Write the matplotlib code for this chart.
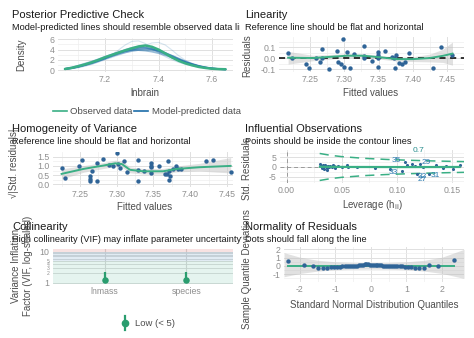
import numpy as np
import matplotlib
matplotlib.use("Agg")
import matplotlib.pyplot as plt
from matplotlib.lines import Line2D
from matplotlib.transforms import Bbox

plt.rcParams['font.family'] = ['Liberation Sans', 'DejaVu Sans']

# ---------------- data ----------------
# Posterior predictive check (density curves read on a common grid)
ppc_x = [7.050, 7.075, 7.100, 7.125, 7.150, 7.175, 7.200, 7.225, 7.250, 7.275, 7.300, 7.325, 7.350,
         7.375, 7.400, 7.425, 7.450, 7.475, 7.500, 7.525, 7.550, 7.575, 7.600, 7.625, 7.650]
ppc_observed = [0.20, 0.42, 0.75, 1.10, 1.50, 1.98, 2.50, 2.95, 3.40, 3.85, 4.25, 4.62, 4.80,
                4.55, 4.00, 3.25, 2.45, 1.80, 1.30, 0.92, 0.60, 0.40, 0.25, 0.18, 0.15]
ppc_pred_a = [0.20, 0.40, 0.70, 1.05, 1.45, 1.90, 2.40, 2.85, 3.30, 3.70, 4.00, 4.18, 4.20,
              4.05, 3.75, 3.25, 2.70, 2.10, 1.55, 1.10, 0.72, 0.45, 0.28, 0.18, 0.12]
ppc_pred_b = [0.18, 0.35, 0.60, 0.95, 1.30, 1.75, 2.20, 2.70, 3.20, 3.65, 4.05, 4.30, 4.40,
              4.25, 3.90, 3.35, 2.75, 2.15, 1.60, 1.15, 0.78, 0.50, 0.30, 0.18, 0.10]
ppc_pred_c = [0.25, 0.50, 0.85, 1.25, 1.65, 2.10, 2.60, 3.05, 3.45, 3.75, 3.90, 3.90, 3.80,
              3.60, 3.30, 2.90, 2.45, 1.95, 1.50, 1.10, 0.75, 0.50, 0.32, 0.20, 0.15]
ppc_pred_d = [0.20, 0.38, 0.65, 1.00, 1.40, 1.85, 2.35, 2.90, 3.45, 3.95, 4.35, 4.50, 4.40,
              4.10, 3.65, 3.10, 2.50, 1.95, 1.45, 1.05, 0.70, 0.45, 0.28, 0.17, 0.12]
ppc_pred_e = [0.20, 0.40, 0.68, 1.00, 1.38, 1.80, 2.25, 2.70, 3.10, 3.45, 3.72, 3.92, 4.00,
              3.95, 3.70, 3.30, 2.80, 2.25, 1.70, 1.22, 0.82, 0.52, 0.32, 0.20, 0.14]
ppc_pred_f = [0.12, 0.25, 0.45, 0.75, 1.10, 1.60, 2.20, 3.00, 3.90, 4.90, 5.60, 5.70, 5.20,
              4.30, 3.40, 2.60, 2.00, 1.50, 1.10, 0.80, 0.55, 0.35, 0.22, 0.14, 0.10]
ppc_pred_g = [0.15, 0.30, 0.50, 0.80, 1.15, 1.55, 2.00, 2.45, 2.90, 3.35, 3.80, 4.30, 4.85,
              5.30, 5.40, 4.90, 3.90, 2.80, 1.90, 1.25, 0.80, 0.50, 0.30, 0.18, 0.12]
ppc_predicted = [ppc_pred_a, ppc_pred_b, ppc_pred_c, ppc_pred_d, ppc_pred_e, ppc_pred_f, ppc_pred_g]

# Linearity: fitted values and residuals
fitted = [7.218, 7.223, 7.244, 7.248, 7.259, 7.264, 7.268, 7.268, 7.278, 7.289,
          7.291, 7.298, 7.295, 7.300, 7.304, 7.308, 7.314, 7.329, 7.329, 7.329,
          7.340, 7.349, 7.349, 7.349, 7.349, 7.360, 7.369, 7.372, 7.375, 7.374,
          7.380, 7.385, 7.389, 7.395, 7.430, 7.441, 7.458]
residuals = [0.043, 0.003, -0.055, -0.094, 0.003, -0.033, 0.082, 0.003, -0.100, 0.067,
             -0.033, 0.173, -0.057, -0.079, 0.052, -0.094, 0.033, 0.112, 0.021, 0.003,
             -0.027, 0.057, 0.030, 0.003, -0.079, 0.067, 0.012, -0.003, 0.027, -0.094,
             -0.048, -0.057, -0.033, 0.043, -0.094, 0.103, 0.027]
lin_smooth_x = [7.218, 7.254, 7.304, 7.327, 7.352, 7.377, 7.400, 7.425, 7.444, 7.458]
lin_smooth_y = [0.003, 0.000, 0.021, 0.021, 0.007, -0.010, -0.010, 0.000, 0.020, 0.040]
lin_band_lo = [-0.055, -0.025, 0.003, 0.004, -0.010, -0.028, -0.032, -0.035, -0.040, -0.065]
lin_band_hi = [0.060, 0.025, 0.039, 0.038, 0.024, 0.008, 0.012, 0.035, 0.080, 0.145]

# Homogeneity of variance
homog_fitted = [7.225, 7.230, 7.249, 7.253, 7.263, 7.263, 7.263, 7.273, 7.273, 7.267,
                7.281, 7.290, 7.295, 7.300, 7.302, 7.305, 7.310, 7.314, 7.329, 7.329,
                7.329, 7.337, 7.347, 7.347, 7.347, 7.347, 7.357, 7.366, 7.368, 7.370,
                7.371, 7.372, 7.371, 7.377, 7.381, 7.383, 7.388, 7.422, 7.431, 7.455]
homog_sqrt_abs = [0.89, 0.36, 0.98, 1.32, 0.48, 0.30, 0.16, 1.16, 0.18, 0.75,
                  1.37, 1.07, 1.02, 1.68, 1.11, 0.89, 1.29, 0.66, 1.34, 0.79,
                  0.21, 0.71, 1.14, 0.98, 0.93, 0.61, 1.02, 0.57, 0.54, 1.25,
                  0.75, 0.48, 0.25, 0.84, 1.02, 0.84, 0.84, 1.29, 1.32, 0.66]
homog_smooth_x = [7.225, 7.255, 7.282, 7.298, 7.307, 7.318, 7.336, 7.363, 7.382, 7.413, 7.455]
homog_smooth_y = [0.57, 0.84, 1.02, 1.14, 1.10, 0.79, 0.71, 0.71, 0.84, 0.93, 1.00]
homog_band_lo = [0.30, 0.66, 0.86, 0.97, 0.93, 0.63, 0.56, 0.56, 0.68, 0.72, 0.62]
homog_band_hi = [0.84, 1.02, 1.18, 1.31, 1.27, 0.95, 0.86, 0.86, 1.00, 1.14, 1.45]

# Influential observations
leverage = [0.0303, 0.0309, 0.0318, 0.0327, 0.0333, 0.0342, 0.0348, 0.0357, 0.0363, 0.0369,
            0.0378, 0.0388, 0.0394, 0.0409, 0.0418, 0.0430, 0.0439, 0.0469, 0.0500, 0.0545,
            0.0560, 0.0636, 0.0803, 0.0940, 0.1045, 0.1075, 0.1090, 0.1136, 0.1166, 0.1180,
            0.1210, 0.1240, 0.1288, 0.1360, 0.1420, 0.1450, 0.1510, 0.1570]
std_resid = [1.42, 0.37, -0.35, 1.07, 0.0, -0.88, 0.9, 0.37, -0.35, -1.4,
             0.72, 0.0, 0.54, 0.0, 0.9, 0.37, -0.35, 0.54, 0.0, 0.9,
             0.0, 0.0, -0.35, -1.2, -2.1, 2.65, 0.9, 1.42, 0.37, -3.85,
             1.6, 0.0, -3.5, 0.9, -0.35, 0.37, -0.88, 0.9]
infl_smooth_x = [0.0303, 0.06, 0.11, 0.157]
infl_smooth_y = [0.1, 0.0, -0.05, 0.0]
cook_lev = [0.030, 0.040, 0.050, 0.070, 0.090, 0.110, 0.130, 0.150, 0.170]
cook_upper = [7.08, 6.10, 5.43, 4.54, 3.97, 3.54, 3.21, 2.94, 2.72]
cook_lower = [-7.08, -6.10, -5.43, -4.54, -3.97, -3.54, -3.21, -2.94, -2.72]
infl_labels = ['35', '29', '33', '32', '31', '27']
infl_label_lev = [0.0994, 0.127, 0.097, 0.1227, 0.135, 0.1227]
infl_label_res = [3.5, 2.1, -3.15, -4.9, -4.4, -6.6]

# Collinearity
vif_terms = ['lnmass', 'species']
vif_values = [1.22, 1.22]
vif_ci_low = [1.0, 1.0]
vif_ci_high = [2.2, 2.2]

# Normality of residuals (detrended QQ)
qq_theoretical = [-2.33, -1.88, -1.64, -1.48, -1.34, -1.23, -1.13, -1.04, -0.95, -0.88,
                  -0.81, -0.74, -0.67, -0.61, -0.55, -0.50, -0.44, -0.39, -0.33, -0.28,
                  -0.23, -0.18, -0.13, -0.08, -0.03, 0.03, 0.08, 0.13, 0.18, 0.23,
                  0.28, 0.33, 0.39, 0.44, 0.50, 0.55, 0.61, 0.67, 0.74, 0.81,
                  0.88, 0.95, 1.04, 1.13, 1.23, 1.34, 1.48, 1.64, 1.88, 2.33]
qq_deviation = [0.55, 0.15, 0.02, -0.25, -0.22, -0.25, -0.18, -0.15, -0.12, -0.08,
                -0.05, -0.04, -0.02, 0.0, 0.0, 0.02, 0.04, 0.05, 0.08, 0.12,
                0.15, 0.18, 0.20, 0.18, 0.17, 0.15, 0.13, 0.12, 0.10, 0.08,
                0.07, 0.05, 0.04, 0.03, 0.02, 0.0, 0.0, -0.02, -0.03, -0.05,
                -0.06, -0.08, -0.10, -0.15, -0.22, -0.28, -0.20, 0.12, -0.05, 0.75]
qq_band_x = [-2.45, -2.0, -1.5, -1.0, -0.5, 0.0, 0.5, 1.0, 1.5, 2.0, 2.62]
qq_band_hi = [1.6, 1.05, 0.68, 0.5, 0.42, 0.40, 0.42, 0.5, 0.68, 1.05, 2.0]
qq_band_lo = [-1.3, -0.9, -0.62, -0.47, -0.4, -0.37, -0.4, -0.47, -0.62, -0.9, -1.5]

# ---------------- styling ----------------
W, H = 474, 338
fig = plt.figure(figsize=(W / 100, H / 100), dpi=100)
fig.patch.set_facecolor('white')

GREEN = '#3aaf85'
BLUE = '#1b6ca8'
PT = '#2f6497'
TICKC = '#8f8f8f'
LABC = '#4d4d4d'
TITLEC = '#1a1a1a'


def panel(x0, x1, y0, y1):
    ax = fig.add_axes([x0 / W, 1 - y1 / H, (x1 - x0) / W, (y1 - y0) / H])
    for s in ax.spines.values():
        s.set_visible(False)
    ax.tick_params(which='both', length=0, labelsize=6.3, labelcolor=TICKC, pad=2.5)
    ax.set_axisbelow(True)
    return ax


def grid(ax, xmaj, ymaj, xmin=None, ymin=None):
    ax.set_xticks(xmaj)
    ax.set_yticks(ymaj)
    if xmin is not None:
        ax.set_xticks(xmin, minor=True)
    if ymin is not None:
        ax.set_yticks(ymin, minor=True)
    ax.grid(True, which='major', color='#e0e0e0', lw=0.7)
    ax.grid(True, which='minor', color='#eeeeee', lw=0.5)


def txt(x, y, s, size, color=TITLEC, clip=None, **kw):
    t = fig.text(x / W, 1 - y / H, s, fontsize=size, color=color, va='center', **kw)
    if clip is not None:
        t.set_clip_box(Bbox.from_extents(clip[0], 0, clip[1], H))
        t.set_clip_on(True)
    return t


def ylab(x, y, s, size=7):
    return fig.text(x / W, 1 - y / H, s, fontsize=size, color=LABC, rotation=90,
                    va='center', ha='center', multialignment='center')


def xlab(x, y, s, size=7):
    return fig.text(x / W, 1 - y / H, s, fontsize=size, color=LABC, va='center', ha='center')


TS, SS = 8.0, 6.7

# ---------- 1: Posterior predictive check ----------
ax = panel(58, 233, 38, 72)
pred_alpha = [0.45, 0.45, 0.45, 0.45, 0.45, 0.18, 0.18]
pred_lw = [1.3, 1.3, 1.3, 1.3, 1.3, 0.8, 0.8]
for pred, a, w in zip(ppc_predicted, pred_alpha, pred_lw):
    ax.plot(ppc_x, pred, color=BLUE, lw=w, alpha=a, solid_capstyle='round')
ax.plot(ppc_x, ppc_observed, color=GREEN, lw=1.8, solid_capstyle='round')
ax.set_xlim(7.024, 7.678)
ax.set_ylim(-0.39, 6.27)
grid(ax, [7.2, 7.4, 7.6], [0, 2, 4, 6], [7.1, 7.3, 7.5], [1, 3, 5])
ax.set_xticklabels(['7.2', '7.4', '7.6'])
txt(12, 15, 'Posterior Predictive Check', TS)
txt(12, 28, 'Model-predicted lines should resemble observed data line', SS, clip=(0, 240))
xlab(145, 93, 'lnbrain')
ylab(21, 55, 'Density')
# legend
fig.add_artist(Line2D([53 / W, 67 / W], [1 - 111 / H] * 2, color=GREEN, lw=1.2))
txt(70, 111, 'Observed data', 6.8, color=LABC)
fig.add_artist(Line2D([134 / W, 148 / W], [1 - 111 / H] * 2, color=BLUE, lw=1.2))
txt(152, 111, 'Model-predicted data', 6.8, color=LABC)

# ---------- 2: Linearity ----------
ax = panel(279, 464, 37, 72)
ax.fill_between(lin_smooth_x, lin_band_lo, lin_band_hi, color='#bdbdbd', alpha=0.45, lw=0)
ax.axhline(0, color='black', lw=1.1, ls=(0, (4, 3)))
ax.scatter(fitted, residuals, s=10, color=PT, lw=0, zorder=3)
ax.plot(lin_smooth_x, lin_smooth_y, color=GREEN, lw=1.4, zorder=4)
ax.set_xlim(7.2047, 7.4748)
ax.set_ylim(-0.127, 0.191)
grid(ax, [7.25, 7.30, 7.35, 7.40, 7.45], [-0.1, 0.0, 0.1],
     [7.225, 7.275, 7.325, 7.375, 7.425], [-0.05, 0.05, 0.15])
ax.set_xticklabels(['7.25', '7.30', '7.35', '7.40', '7.45'])
ax.set_yticklabels(['-0.1', '0.0', '0.1'])
txt(245, 15, 'Linearity', TS)
txt(245, 28, 'Reference line should be flat and horizontal', SS)
xlab(371, 93, 'Fitted values')
ylab(247, 56, 'Residuals')

# ---------- 3: Homogeneity of variance ----------
ax = panel(53, 233, 152, 186.5)
ax.fill_between(homog_smooth_x, homog_band_lo, homog_band_hi, color='#bdbdbd', alpha=0.45, lw=0)
ax.scatter(homog_fitted, homog_sqrt_abs, s=10, color=PT, lw=0, zorder=3)
ax.plot(homog_smooth_x, homog_smooth_y, color=GREEN, lw=1.4, zorder=4)
ax.set_xlim(7.2133, 7.4582)
ax.set_ylim(-0.11, 1.75)
grid(ax, [7.25, 7.30, 7.35, 7.40, 7.45], [0.0, 0.5, 1.0, 1.5],
     [7.225, 7.275, 7.325, 7.375, 7.425], [0.25, 0.75, 1.25])
ax.set_xticklabels(['7.25', '7.30', '7.35', '7.40', '7.45'])
ax.set_yticklabels(['0.0', '0.5', '1.0', '1.5'])
txt(12, 129, 'Homogeneity of Variance', TS)
txt(12, 141, 'Reference line should be flat and horizontal', SS)
xlab(145, 207, 'Fitted values')
ylab(14, 163, '\u221a|Std. residuals|')

# ---------- 4: Influential observations ----------
ax = panel(280, 464, 150, 183)
ax.axhline(0, color='#9a9a9a', lw=0.7, ls=(0, (4, 3)))
ax.axvline(0, color='#9a9a9a', lw=0.7, ls=(0, (4, 3)))
ax.plot(cook_lev, cook_upper, color=GREEN, lw=1.1, ls=(0, (6, 4)))
ax.plot(cook_lev, cook_lower, color=GREEN, lw=1.1, ls=(0, (6, 4)))
ax.scatter(leverage, std_resid, s=5, color=PT, lw=0, zorder=3)
ax.plot(infl_smooth_x, infl_smooth_y, color=GREEN, lw=1.6, zorder=4)
for lab, lx, ly in zip(infl_labels, infl_label_lev, infl_label_res):
    ax.text(lx, ly, lab, fontsize=6, color='#2b7bb0', ha='center', va='center', zorder=5)
ax.text(0.1197, 8.6, '0.7', fontsize=6, color='#2b8f8f', ha='center', va='center', zorder=5)
ax.set_xlim(-0.006, 0.161)
ax.set_ylim(-8.4, 8.9)
grid(ax, [0.0, 0.05, 0.10, 0.15], [-5, 0, 5], [0.025, 0.075, 0.125], [-7.5, -2.5, 2.5, 7.5])
ax.set_xticklabels(['0.00', '0.05', '0.10', '0.15'])
ax.set_yticklabels(['-5', '0', '5'])
txt(245, 129, 'Influential Observations', TS)
txt(245, 141, 'Points should be inside the contour lines', SS)
xlab(372, 205, r'Leverage (h$_{\mathrm{ii}}$)')
ylab(247, 169, 'Std. Residuals')

# ---------- 5: Collinearity ----------
ax = panel(53, 233, 249, 284)
ax.set_yscale('log')
ax.set_xlim(0.37, 2.57)
ax.set_ylim(0.91, 12.2)
ax.axhspan(0.91, 5, color=GREEN, alpha=0.13, lw=0)
ax.axhspan(5, 10, color=BLUE, alpha=0.13, lw=0)
ax.axhspan(10, 12.2, color='#cd201f', alpha=0.13, lw=0)
xpos = np.arange(1, len(vif_terms) + 1)
ax.set_xticks(xpos)
ax.set_xticklabels(vif_terms)
ax.set_yticks([1, 2, 3, 4, 5, 10])
ax.set_yticklabels(['1', '2', '3', '4', '5', '10'])
ax.set_yticks([6, 7, 8, 9], minor=True)
ax.yaxis.set_minor_formatter(plt.NullFormatter())
for lbl in ax.get_yticklabels():
    if lbl.get_text() in ('2', '3', '4', '5'):
        lbl.set_fontsize(3.6)
ax.grid(True, which='both', axis='y', color='#d9d9d9', lw=0.6)
ax.grid(True, which='major', axis='x', color='#d9d9d9', lw=0.8)
ax.vlines(xpos, vif_ci_low, vif_ci_high, color='#2a9d6f', lw=1.6, zorder=3)
ax.scatter(xpos, vif_values, s=22, color='#2a9d6f', lw=0, zorder=4)
txt(12, 227, 'Collinearity', TS)
txt(12, 239, 'High collinearity (VIF) may inflate parameter uncertainty', SS, clip=(0, 241))
ylab(22, 266, 'Variance Inflation\nFactor (VIF, log-scaled)')
# legend
fig.add_artist(Line2D([125 / W, 125 / W], [1 - 316 / H, 1 - 330 / H], color='#2a9d6f', lw=1.6))
fig.add_artist(Line2D([125 / W], [1 - 323 / H], color='#2a9d6f', marker='o', ms=4.5, lw=0))
txt(135, 323, 'Low (< 5)', 6.8, color=LABC)

# ---------- 6: Normality of residuals ----------
ax = panel(284, 464, 247, 282)
ax.fill_between(qq_band_x, qq_band_lo, qq_band_hi, color='#bdbdbd', alpha=0.45, lw=0)
ax.plot([qq_theoretical[0], qq_theoretical[-1]], [0, 0], color=GREEN, lw=1.4, zorder=3)
ax.scatter(qq_theoretical, qq_deviation, s=10, color=PT, lw=0, zorder=4)
ax.set_xlim(-2.45, 2.62)
ax.set_ylim(-1.93, 2.28)
grid(ax, [-2, -1, 0, 1, 2], [-1, 0, 1, 2], [-1.5, -0.5, 0.5, 1.5], [-1.5, -0.5, 0.5, 1.5])
ax.set_xticklabels(['-2', '-1', '0', '1', '2'])
ax.set_yticklabels(['-1', '0', '1', '2'])
txt(245, 227, 'Normality of Residuals', TS)
txt(245, 239, 'Dots should fall along the line', SS)
xlab(374, 305, 'Standard Normal Distribution Quantiles')
ylab(247, 269, 'Sample Quantile Deviations')

fig.savefig('out.png', dpi=100, facecolor='white')
